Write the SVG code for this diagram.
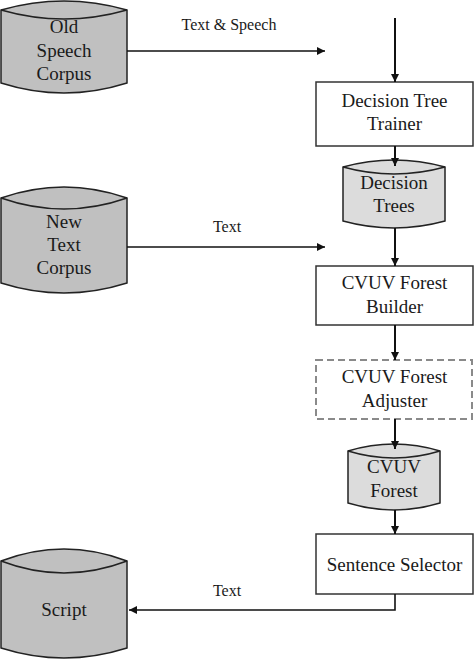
<svg xmlns="http://www.w3.org/2000/svg" width="474" height="660" viewBox="0 0 474 660">
<defs>
<style>
text{font-family:'Liberation Serif','DejaVu Serif','Times New Roman',Times,serif;fill:#1a1a1a;text-anchor:middle}
.t{font-size:19px}
.l{font-size:16px}
.box{fill:#fff;stroke:#333;stroke-width:1.5}
.dash{fill:#fff;stroke:#8a8a8a;stroke-width:2;stroke-dasharray:7 4}
.cylD{fill:#c0c0c0;stroke:#222;stroke-width:1.5}
.cylL{fill:#dcdcdc;stroke:#222;stroke-width:1.5}
.cap{fill:none;stroke:#222;stroke-width:1.5}
.c{fill:none;stroke:#111;stroke-width:2}
.ch{fill:none;stroke:#111;stroke-width:1.6}
</style>
<marker id="ah" viewBox="0 0 10 10" refX="10" refY="5" markerWidth="10" markerHeight="8" markerUnits="userSpaceOnUse" orient="auto">
<path d="M0,0 L10,5 L0,10 Z" fill="#111"/>
</marker>
</defs>
<g font-family="Liberation Serif, DejaVu Serif, serif">
<g id="old-speech-corpus">
<path class="cylD" d="M1,10 Q64,-8 127,10 L127,83 Q64,103 1,83 Z"/>
<path class="cap" d="M1,10 Q64,28 127,10"/>
<text class="t" x="64" y="33">Old</text>
<text class="t" x="64" y="57">Speech</text>
<text class="t" x="64" y="80">Corpus</text>
</g>

<g id="new-text-corpus">
<path class="cylD" d="M1,198 Q64,176 127,198 L127,283 Q64,303 1,283 Z"/>
<path class="cap" d="M1,198 Q64,220 127,198"/>
<text class="t" x="64" y="228">New</text>
<text class="t" x="64" y="251">Text</text>
<text class="t" x="64" y="274">Corpus</text>
</g>

<g id="script">
<path class="cylD" d="M1,561 Q64,537 127,561 L127,648 Q64,668 1,648 Z"/>
<path class="cap" d="M1,561 Q64,585 127,561"/>
<text class="t" x="64" y="616">Script</text>
</g>

<g id="decision-tree-trainer">
<rect class="box" x="316" y="82" width="157" height="64"/>
<text class="t" x="394.5" y="107">Decision Tree</text>
<text class="t" x="394.5" y="130">Trainer</text>
</g>

<g id="decision-trees">
<path class="cylL" d="M343,167 Q394,153 445,167 L445,221 Q394,235 343,221 Z"/>
<path class="cap" d="M343,167 Q394,181 445,167"/>
<text class="t" x="394" y="189">Decision</text>
<text class="t" x="394" y="212">Trees</text>
</g>

<g id="cvuv-forest-builder">
<rect class="box" x="316" y="266" width="157" height="59"/>
<text class="t" x="394.5" y="289">CVUV Forest</text>
<text class="t" x="394.5" y="313">Builder</text>
</g>

<g id="cvuv-forest-adjuster">
<rect class="dash" x="316" y="360" width="156" height="59"/>
<text class="t" x="394.5" y="383">CVUV Forest</text>
<text class="t" x="394.5" y="407">Adjuster</text>
</g>

<g id="cvuv-forest">
<path class="cylL" d="M348,451 Q394,437 440,451 L440,503 Q394,517 348,503 Z"/>
<path class="cap" d="M348,451 Q394,465 440,451"/>
<text class="t" x="394" y="473">CVUV</text>
<text class="t" x="394" y="497">Forest</text>
</g>

<g id="sentence-selector">
<rect class="box" x="316" y="534" width="157" height="60"/>
<text class="t" x="394.5" y="571">Sentence Selector</text>
</g>

<g id="connectors">
<path class="ch" d="M127,51 L325,51" marker-end="url(#ah)"/>
<text class="l" x="229" y="30">Text &amp; Speech</text>
<path class="ch" d="M127,247 L325,247" marker-end="url(#ah)"/>
<text class="l" x="227" y="232">Text</text>
<path class="c" d="M395,18 L395,82" marker-end="url(#ah)"/>
<path class="c" d="M395,146 L395,166" marker-end="url(#ah)"/>
<path class="c" d="M395,228 L395,266" marker-end="url(#ah)"/>
<path class="c" d="M395,325 L395,360" marker-end="url(#ah)"/>
<path class="c" d="M395,419 L395,449" marker-end="url(#ah)"/>
<path class="c" d="M395,510 L395,534" marker-end="url(#ah)"/>
<path class="ch" d="M395,594 L395,610 L129,610" marker-end="url(#ah)"/>
<text class="l" x="227" y="596">Text</text>
</g>
</g>
</svg>
